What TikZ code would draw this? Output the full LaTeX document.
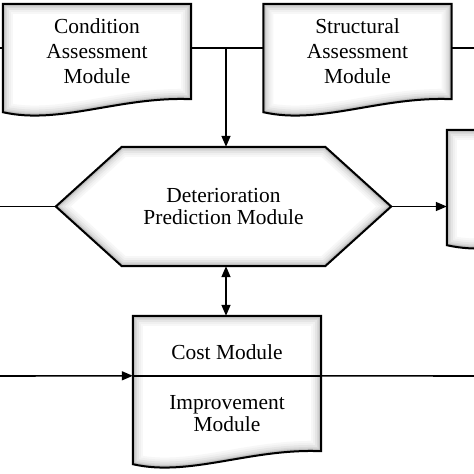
\documentclass[tikz,border=0pt]{standalone}
\usepackage{fontspec}
\setmainfont{Liberation Serif}
\usetikzlibrary{arrows.meta,calc}
\pgfdeclarelayer{background}
\pgfsetlayers{background,main}

\tikzset{
  module/.style={rectangle, minimum width=188bp, inner sep=0pt, align=center,
    font=\fontsize{21.5}{25}\selectfont},
  outline/.style={draw=black, line width=2bp, line join=miter},
  link/.style={draw=black, line width=1.6bp},
  >={Triangle[length=11bp,width=9bp]},
}

% document outline from the top of #1 to the wavy bottom of #2
\newcommand\docshape[2]{(#1.north west) -- (#1.north east) -- (#2.south east)
  .. controls +(-71,-3) and +(57,13) .. ($(#2.south west)+(0,13)$) -- cycle}
\newcommand\hexshape{(deter.north west) -- (deter.north east) -- (hexR)
  -- (deter.south east) -- (deter.south west) -- (hexL) -- cycle}
% white body with a soft grey rim
\newcommand\glow[1]{%
  \fill[white] #1;
  \begin{scope}
    \clip #1;
    \foreach \w/\c in {20/3,16/6,12/10,8/15,5/22,3/32}
      \draw[black!\c, line width=\w bp] #1;
  \end{scope}
  \draw[outline] #1;}

\begin{document}
\begin{tikzpicture}[x=1bp, y=-1bp]
\clip (0,0) rectangle (474,474);

\node[module, minimum height=95bp] (cond) at (97,51.5) {Condition\\Assessment\\Module};
\node[module, minimum height=95bp] (struct) at (357.5,51.5) {Structural\\Assessment\\Module};
\node[module, minimum width=203bp, minimum height=119bp,
  font=\fontsize{21.5}{22}\selectfont] (deter) at (223.5,206.5) {Deterioration\\Prediction Module};
\coordinate (hexL) at ($(deter.west)+(-66,0)$);
\coordinate (hexR) at ($(deter.east)+(66,0)$);
\node[module, minimum height=102bp] (next) at (541,181) {};
\node[module, minimum height=60bp, text height=27bp] (cost) at (227,346) {Cost Module};
\node[module, minimum height=75bp,
  font=\fontsize{21.5}{22}\selectfont] (improve) at (227,413.5) {Improvement\\Module};

\begin{pgfonlayer}{background}
\fill[white] (0,0) rectangle (474,474);
\glow{\docshape{cond}{cond}}
\glow{\docshape{struct}{struct}}
\glow{\docshape{next}{next}}
\glow{\hexshape}
\glow{\docshape{cost}{improve}}
\draw[outline] (improve.north west) -- (improve.north east);
\end{pgfonlayer}

\coordinate (join) at (226,48);
\coordinate (inA) at (0,48);
\coordinate (outA) at (474,48);
\coordinate (inB) at (0,206.5);
\coordinate (inC) at (0,376);
\coordinate (outC) at (474,376);

\draw[link] (inA) -- (cond.west |- inA);
\draw[link] (cond.east |- join) -- (struct.west |- join);
\draw[link] (struct.east |- join) -- (outA);
\draw[link,->] (join) -- (deter.north -| join);
\draw[link] (inB) -- (hexL);
\draw[link,->] (hexR) -- (next.west |- hexR);
\draw[link,<->] (deter.south -| join) -- (cost.north -| join);
\draw[link,->] (inC) -- (improve.north west);
\draw[link] (improve.north east) -- (outC);
\end{tikzpicture}
\end{document}
